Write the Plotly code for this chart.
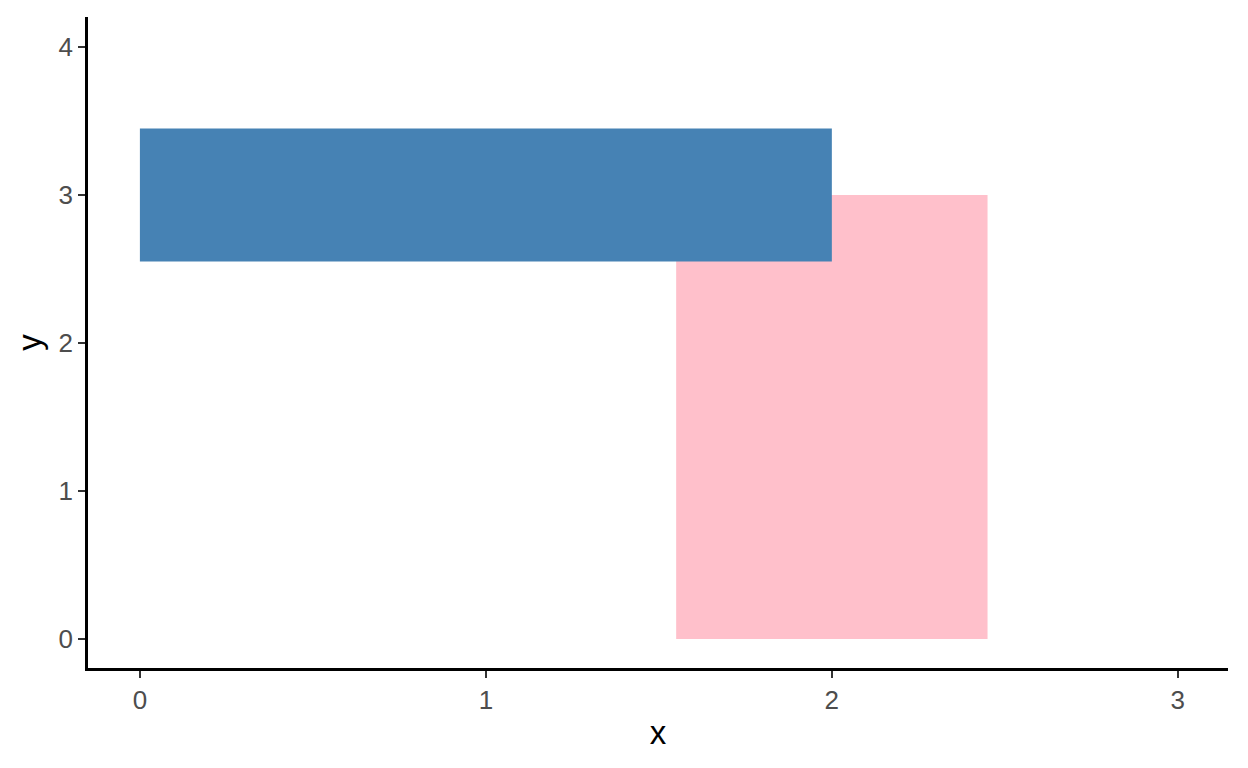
import plotly.graph_objects as go

# data
v_x = [2]
v_y = [3]
h_y = [3]
h_x = [2]
bar_width = 0.9
x_ticks = [0, 1, 2, 3]
y_ticks = [0, 1, 2, 3, 4]

fig = go.Figure()
fig.add_trace(go.Bar(x=v_x, y=v_y, width=bar_width, orientation="v",
                     marker=dict(color="#FFC0CB", line=dict(width=0)), showlegend=False))
fig.add_trace(go.Bar(x=h_x, y=h_y, width=bar_width, base=0, orientation="h",
                     marker=dict(color="#4682B4", line=dict(width=0)), showlegend=False))

fig.update_layout(
    barmode="overlay",
    width=1240, height=760,
    margin=dict(l=80, r=20, t=9, b=100),
    plot_bgcolor="white", paper_bgcolor="white",
    font=dict(family="Liberation Sans, Arial, sans-serif"),
)
fig.update_xaxes(range=[-0.15, 3.145], tickvals=x_ticks, ticks="outside", ticklen=7,
                 tickcolor="#333333", tickwidth=2, showgrid=False, zeroline=False,
                 showline=True, linecolor="black", linewidth=2.5,
                 tickfont=dict(size=26, color="#4D4D4D"),
                 title=dict(text="x", font=dict(size=33, color="black"), standoff=7))
fig.update_yaxes(range=[-0.196, 4.203], tickvals=y_ticks, ticks="outside", ticklen=7,
                 tickcolor="#333333", tickwidth=2, showgrid=False, zeroline=False,
                 showline=True, linecolor="black", linewidth=2.5,
                 tickfont=dict(size=26, color="#4D4D4D"),
                 title=dict(text="y", font=dict(size=33, color="black"), standoff=8))

fig.write_html("out.html")
